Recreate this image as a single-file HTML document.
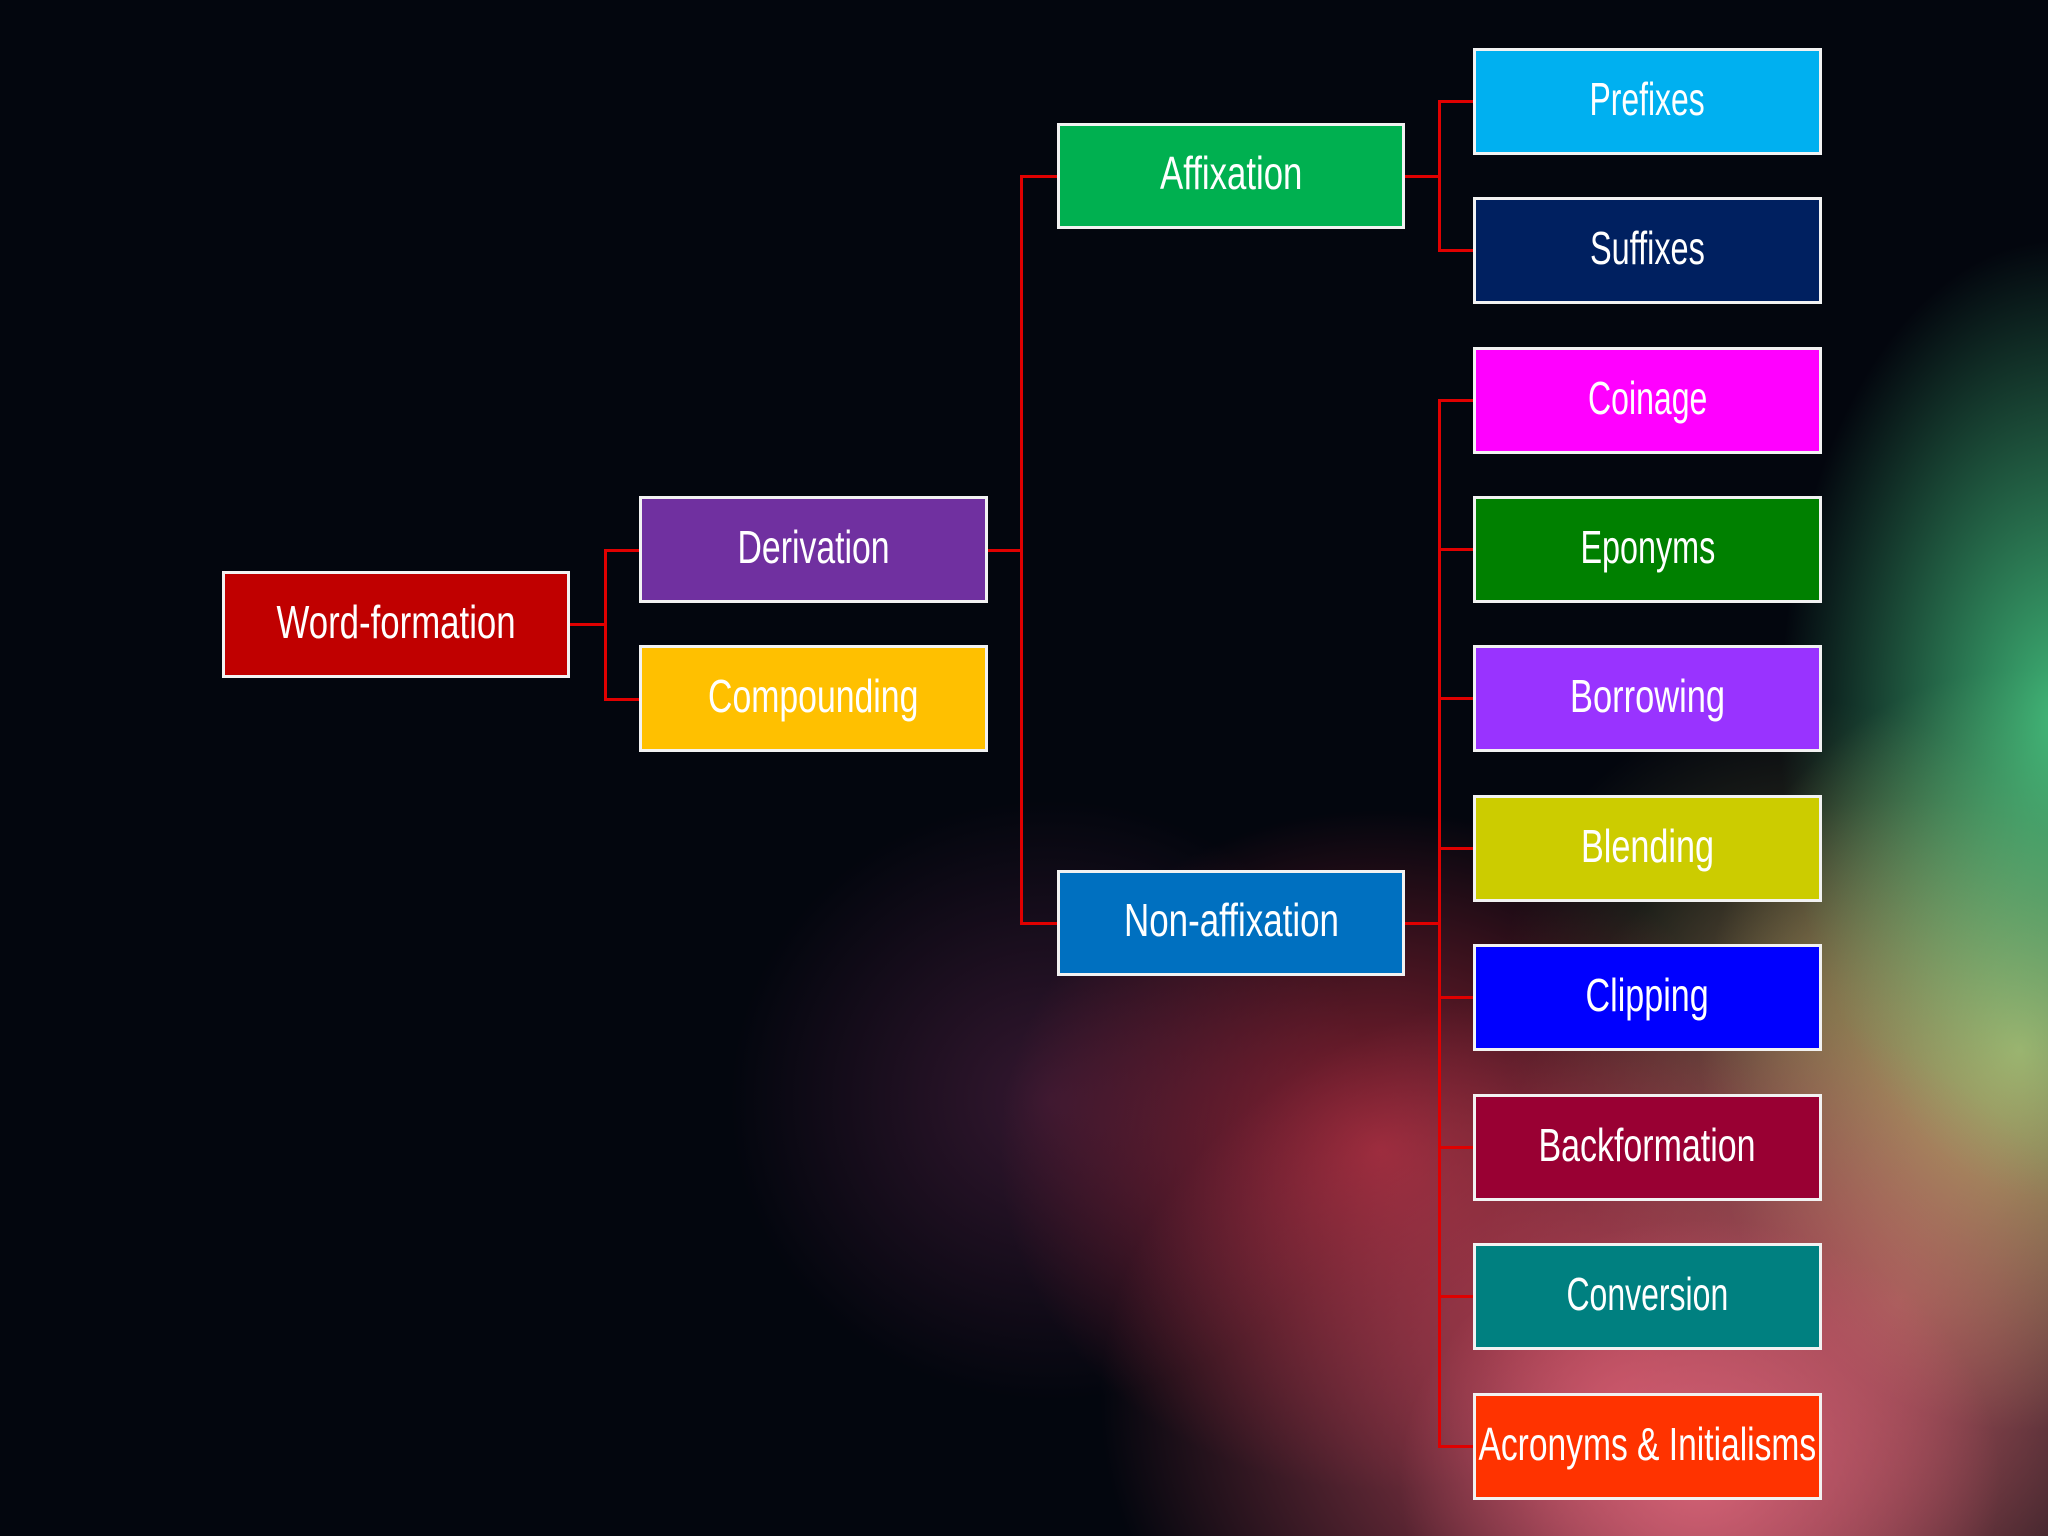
<!DOCTYPE html>
<html><head><meta charset="utf-8"><style>
html,body{margin:0;padding:0}
body{width:2048px;height:1536px;position:relative;overflow:hidden;background:#03060e;font-family:"Liberation Sans",sans-serif}
.bg{position:absolute;inset:0;background:
radial-gradient(ellipse 300px 260px at 1700px 1480px,rgba(215,100,120,0.9),rgba(215,100,120,0) 100%),
radial-gradient(ellipse 520px 420px at 1620px 1400px,rgba(210,80,100,0.85),rgba(210,80,100,0) 100%),
radial-gradient(ellipse 380px 340px at 1380px 1150px,rgba(190,45,65,0.75),rgba(190,45,65,0) 100%),
radial-gradient(ellipse 280px 480px at 2060px 720px,rgba(70,200,130,0.9),rgba(70,200,130,0) 100%),
radial-gradient(ellipse 320px 380px at 2020px 1050px,rgba(205,195,115,0.85),rgba(205,195,115,0) 100%),
radial-gradient(ellipse 420px 500px at 1900px 1300px,rgba(190,110,110,0.7),rgba(190,110,110,0) 100%),
radial-gradient(ellipse 300px 300px at 1800px 1000px,rgba(110,110,60,0.6),rgba(110,110,60,0) 100%),
radial-gradient(ellipse 320px 300px at 1050px 1100px,rgba(100,40,80,0.5),rgba(100,40,80,0) 100%);}
.b{position:absolute;box-sizing:border-box;border:3px solid #f2f2f2;color:#fff;display:flex;align-items:center;justify-content:center;font-size:46px;white-space:nowrap;padding-bottom:6px}
.b span{display:inline-block;transform-origin:center;transform:scaleX(0.72)}
.l{position:absolute;background:#e00000}
</style></head><body><div class="bg"></div>
<div class="l" style="left:569px;top:623px;width:36px;height:3px"></div>
<div class="l" style="left:604px;top:549px;width:3px;height:151px"></div>
<div class="l" style="left:604px;top:549px;width:36px;height:3px"></div>
<div class="l" style="left:604px;top:698px;width:36px;height:3px"></div>

<div class="l" style="left:987px;top:549px;width:35px;height:3px"></div>
<div class="l" style="left:1020px;top:175px;width:3px;height:749px"></div>
<div class="l" style="left:1020px;top:175px;width:38px;height:3px"></div>
<div class="l" style="left:1020px;top:922px;width:38px;height:3px"></div>

<div class="l" style="left:1404px;top:175px;width:36px;height:3px"></div>
<div class="l" style="left:1438px;top:100px;width:3px;height:151px"></div>
<div class="l" style="left:1438px;top:100px;width:36px;height:3px"></div>
<div class="l" style="left:1438px;top:249px;width:36px;height:3px"></div>

<div class="l" style="left:1404px;top:922px;width:36px;height:3px"></div>
<div class="l" style="left:1438px;top:399px;width:3px;height:1049px"></div>
<div class="l" style="left:1438px;top:399px;width:36px;height:3px"></div>
<div class="l" style="left:1438px;top:548px;width:36px;height:3px"></div>
<div class="l" style="left:1438px;top:697px;width:36px;height:3px"></div>
<div class="l" style="left:1438px;top:847px;width:36px;height:3px"></div>
<div class="l" style="left:1438px;top:996px;width:36px;height:3px"></div>
<div class="l" style="left:1438px;top:1146px;width:36px;height:3px"></div>
<div class="l" style="left:1438px;top:1295px;width:36px;height:3px"></div>
<div class="l" style="left:1438px;top:1445px;width:36px;height:3px"></div>

<div class="b" style="left:222px;top:571px;width:348px;height:107px;background:#c00000"><span data-w="239">Word-formation</span></div>
<div class="b" style="left:639px;top:496px;width:349px;height:107px;background:#7030a0"><span data-w="152">Derivation</span></div>
<div class="b" style="left:639px;top:645px;width:349px;height:107px;background:#ffc000"><span data-w="210">Compounding</span></div>
<div class="b" style="left:1057px;top:123px;width:348px;height:106px;background:#00b050"><span data-w="142">Affixation</span></div>
<div class="b" style="left:1057px;top:870px;width:348px;height:106px;background:#0070c0"><span data-w="215">Non-affixation</span></div>

<div class="b" style="left:1473px;top:48px;width:349px;height:107px;background:#00b0f0"><span data-w="115">Prefixes</span></div>
<div class="b" style="left:1473px;top:197px;width:349px;height:107px;background:#002060"><span data-w="115">Suffixes</span></div>
<div class="b" style="left:1473px;top:347px;width:349px;height:107px;background:#ff00ff"><span data-w="119">Coinage</span></div>
<div class="b" style="left:1473px;top:496px;width:349px;height:107px;background:#008000"><span data-w="135">Eponyms</span></div>
<div class="b" style="left:1473px;top:645px;width:349px;height:107px;background:#9933ff"><span data-w="155">Borrowing</span></div>
<div class="b" style="left:1473px;top:795px;width:349px;height:107px;background:#cccc00"><span data-w="133">Blending</span></div>
<div class="b" style="left:1473px;top:944px;width:349px;height:107px;background:#0000ff"><span data-w="123">Clipping</span></div>
<div class="b" style="left:1473px;top:1094px;width:349px;height:107px;background:#990033"><span data-w="217">Backformation</span></div>
<div class="b" style="left:1473px;top:1243px;width:349px;height:107px;background:#008080"><span data-w="162">Conversion</span></div>
<div class="b" style="left:1473px;top:1393px;width:349px;height:107px;background:#ff3300"><span data-w="338">Acronyms &amp; Initialisms</span></div>
<script>
document.querySelectorAll('.b span').forEach(function(s){
  var w=s.offsetWidth, t=+s.getAttribute('data-w');
  if(w>0&&t>0){s.style.transform='scaleX('+(t/w)+')';}
});
</script>
</body></html>
